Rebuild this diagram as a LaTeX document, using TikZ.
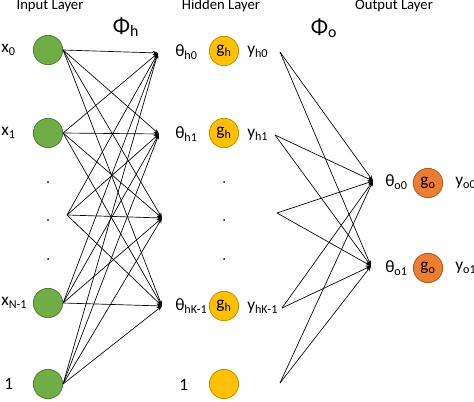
\documentclass[tikz,border=0pt]{standalone}
\usepackage{fontspec}
\setmainfont{Carlito}
\usepackage{tikz}
\usetikzlibrary{arrows.meta}
\definecolor{ingreen}{HTML}{70AD47}
\definecolor{ingreenline}{HTML}{548235}
\definecolor{hidyellow}{HTML}{FFC000}
\definecolor{hidyellowline}{HTML}{C59200}
\definecolor{outorange}{HTML}{ED7D31}
\definecolor{outorangeline}{HTML}{AE5A21}
\tikzset{
  unit/.style = {circle, minimum size=22pt, inner sep=0pt, line width=0.6pt,
                 font=\fontsize{13}{13}\selectfont},
  inunit/.style = {unit, draw=ingreenline, fill=ingreen},
  hidunit/.style = {unit, draw=hidyellowline, fill=hidyellow},
  outunit/.style = {unit, draw=outorangeline, fill=outorange},
  lab/.style = {inner sep=0pt, font=\fontsize{13}{13}\selectfont},
  title/.style = {inner sep=0pt, font=\fontsize{11}{11}\selectfont},
  phi/.style = {inner sep=0pt, font=\fontsize{17}{17}\selectfont},
  ellip/.style = {circle, fill=black, inner sep=0pt, minimum size=1.5pt},
  wire/.style = {line width=0.5pt, -{Stealth[length=4pt,width=3pt]}}
}

\begin{document}
\begin{tikzpicture}[x=0.75pt, y=-0.75pt]
    \useasboundingbox (0,0) rectangle (474,402);
    % layer titles
    \node[title] (tin) at (50,6) {Input Layer};
    \node[title] (thid) at (221,6) {Hidden Layer};
    \node[title] (tout) at (394,6) {Output Layer};
    \node[phi] (phih) at (126,27) {Φ\textsubscript{h}};
    \node[phi] (phio) at (324,28) {Φ\textsubscript{o}};

    % input layer
    \node[inunit] (n0) at (48,50) {};
    \node[inunit] (n1) at (48,133) {};
    \node[inunit] (n3) at (48,303) {};
    \node[inunit] (n4) at (48,384) {};
    \coordinate (i2) at (67,215);
    \node[ellip] (dn0) at (48,182) {};
    \node[ellip] (dn1) at (48,220) {};
    \node[ellip] (dn2) at (48,259) {};
    \node[lab, anchor=west] (lx0) at (1,50) {x\textsubscript{0}};
    \node[lab, anchor=west] (lx1) at (1,133) {x\textsubscript{1}};
    \node[lab, anchor=west] (lx3) at (1,303) {x\textsubscript{N-1}};
    \node[lab, anchor=west] (lx4) at (4,384) {1};

    % hidden layer
    \coordinate (j0) at (158,53);
    \coordinate (j1) at (159,134);
    \coordinate (j2) at (162,218);
    \coordinate (j3) at (162,306);
    \node[lab, anchor=west] (th0) at (175,52) {θ\textsubscript{h0}};
    \node[lab, anchor=west] (th1) at (175,134) {θ\textsubscript{h1}};
    \node[lab, anchor=west] (th3) at (175,306) {θ\textsubscript{hK-1}};
    \node[lab, anchor=west] (th4) at (179,385) {1};
    \node[hidunit] (g0) at (224,51) {g\textsubscript{h}};
    \node[hidunit] (g1) at (224,133) {g\textsubscript{h}};
    \node[hidunit] (g3) at (224,306) {g\textsubscript{h}};
    \node[hidunit] (g4) at (224,384) {};
    \node[ellip] (dh0) at (224,182) {};
    \node[ellip] (dh1) at (224,220) {};
    \node[ellip] (dh2) at (224,259) {};
    \node[lab, anchor=west] (yh0) at (247,52) {y\textsubscript{h0}};
    \node[lab, anchor=west] (yh1) at (247,135) {y\textsubscript{h1}};
    \node[lab, anchor=west] (yh3) at (247,308) {y\textsubscript{hK-1}};
    \coordinate (s0) at (280,52);
    \coordinate (s1) at (275,135);
    \coordinate (s2) at (277,213);
    \coordinate (s3) at (282,308);
    \coordinate (s4) at (280,383);

    % output layer
    \coordinate (k0) at (373,181);
    \coordinate (k1) at (371,266);
    \node[lab, anchor=west] (to0) at (385,182) {θ\textsubscript{o0}};
    \node[lab, anchor=west] (to1) at (385,268) {θ\textsubscript{o1}};
    \node[outunit] (go0) at (428,183) {g\textsubscript{o}};
    \node[outunit] (go1) at (428,268) {g\textsubscript{o}};
    \node[lab, anchor=west] (yo0) at (455,183) {y\textsubscript{o0}};
    \node[lab, anchor=west] (yo1) at (455,268) {y\textsubscript{o1}};

    % weights
    \foreach \s in {n0.east,n1.east,i2,n3.east,n4.east}
        \foreach \t in {j0,j1,j2,j3}
            \draw[wire] (\s) -- (\t);
    \foreach \s in {s0,s1,s2,s3,s4}
        \foreach \t in {k0,k1}
            \draw[wire] (\s) -- (\t);
\end{tikzpicture}
\end{document}
